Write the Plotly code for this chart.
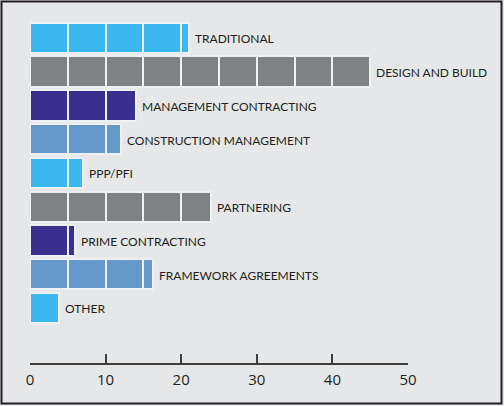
import plotly.graph_objects as go

categories = ["TRADITIONAL", "DESIGN AND BUILD", "MANAGEMENT CONTRACTING",
              "CONSTRUCTION MANAGEMENT", "PPP/PFI", "PARTNERING",
              "PRIME CONTRACTING", "FRAMEWORK AGREEMENTS", "OTHER"]
values = [21, 45, 14, 12, 7, 24, 6, 16.3, 3.8]
colors = ["#3bb8f0", "#808184", "#382f8f", "#6699c9", "#3bb8f0",
          "#808184", "#382f8f", "#6699c9", "#3bb8f0"]
tick_values = [0, 10, 20, 30, 40, 50]
segment = 5

fig = go.Figure()
nseg = int(max(values) // segment) + 1
for k in range(nseg):
    seg = []
    for v in values:
        s = min(segment, v - k * segment)
        seg.append(s if s > 0 else None)
    fig.add_trace(go.Bar(
        y=categories, x=seg, orientation="h",
        marker=dict(color=colors, line=dict(color="#eef1f4", width=2)),
        width=0.9, hoverinfo="skip", showlegend=False))

for c, v in zip(categories, values):
    fig.add_annotation(x=v, y=c, xref="x", yref="y", text=c,
                       showarrow=False, xanchor="left", yanchor="middle",
                       xshift=4, yshift=-1,
                       font=dict(family="Lato", size=12, color="#231f20"))

# frame
L, T, W, H = 30, 20, 378, 343
def px(x): return (x - L) / W
def py(y): return (T + H - y) / H
fig.add_shape(type="rect", xref="paper", yref="paper",
              x0=px(1.5), x1=px(501.5), y0=py(403.5), y1=py(1.5),
              line=dict(color="#231f20", width=2), fillcolor="rgba(0,0,0,0)")

fig.update_layout(
    width=504, height=406,
    margin=dict(l=L, r=504 - L - W, t=T, b=406 - T - H),
    barmode="stack",
    paper_bgcolor="#e6e7e8", plot_bgcolor="#e6e7e8",
    xaxis=dict(range=[0, 50], tickvals=tick_values, showgrid=False,
               zeroline=False, showline=True, linecolor="#3d3d3d",
               linewidth=2, ticks="inside", ticklen=9, tickwidth=2,
               tickcolor="#3d3d3d", ticklabelstandoff=2,
               tickfont=dict(family="Open Sans", size=15, color="#231f20")),
    yaxis=dict(categoryorder="array", categoryarray=categories,
               range=[8 + 1.63, -0.53], showticklabels=False,
               showgrid=False, zeroline=False, showline=False, ticks=""),
)

fig.write_html("out.html")
